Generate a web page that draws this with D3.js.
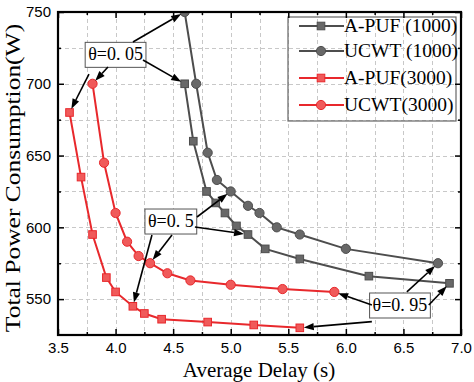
<!DOCTYPE html>
<html><head><meta charset="utf-8">
<script src="https://cdn.jsdelivr.net/npm/d3@7"></script>
<style>body{margin:0;background:#fff}svg{display:block}</style>
</head><body><svg id="c" width="474" height="382"></svg>
<script>
// ---- data ----
const seriesNames = ["A-PUF (1000)", "UCWT (1000)", "A-PUF(3000)", "UCWT(3000)"];
const apuf1000X = [4.6, 4.675, 4.79, 4.87, 4.95, 5.05, 5.15, 5.3, 5.6, 6.2, 6.9];
const apuf1000Y = [700, 660, 625, 617, 610, 601, 595, 585, 578, 566, 561];
const ucwt1000X = [4.6, 4.7, 4.8, 4.88, 5.0, 5.15, 5.25, 5.4, 5.6, 6.0, 6.8];
const ucwt1000Y = [750, 700, 652, 633, 625, 615, 610, 600, 595, 585, 575];
const apuf3000X = [3.6, 3.7, 3.8, 3.92, 4.0, 4.15, 4.25, 4.4, 4.8, 5.2, 5.6];
const apuf3000Y = [680, 635, 595, 565, 555, 545, 540, 536, 534, 532, 530];
const ucwt3000X = [3.8, 3.9, 4.0, 4.1, 4.2, 4.3, 4.45, 4.65, 5.0, 5.45, 5.9];
const ucwt3000Y = [700, 645, 610, 590, 580, 575, 568, 563, 560, 557, 555];
const xTicks = [3.5, 4.0, 4.5, 5.0, 5.5, 6.0, 6.5, 7.0];
const yTicks = [550, 600, 650, 700, 750];
const annotations = [
  {label: "θ=0. 05", cx: 4.0, cy: 720.5,
   arrows: [[3.769, 706.8, 3.6, 680], [3.934, 711.7, 3.8, 700], [4.151, 729.1, 4.6, 750], [4.238, 716.6, 4.6, 700]]},
  {label: "θ=0. 5", cx: 4.48, cy: 604.4,
   arrows: [[4.316, 594.7, 4.15, 545], [4.49, 594.7, 4.3, 575], [4.707, 607.2, 5.0, 625], [4.689, 600.2, 5.15, 595]]},
  {label: "θ=0. 95", cx: 6.47, cy: 545.9,
   arrows: [[6.226, 545.9, 5.9, 555], [6.226, 534.3, 5.6, 530], [6.53, 555, 6.8, 575], [6.72, 545.9, 6.9, 561]]}
];

// ---- layout ----
const L = 58, R = 461, T = 12, B = 335;
const x = d3.scaleLinear().domain([3.5, 7.0]).range([L, R]);
const y = d3.scaleLinear().domain([525, 750]).range([B, T]);
const svg = d3.select("#c");
const GRAY = "#4d4d4d", GRAYM = "#686868", RED = "#e8282c", REDM = "#f05a5a";

const series = [
  {name: seriesNames[0], xs: apuf1000X, ys: apuf1000Y, color: GRAY, mfill: GRAYM, shape: "sq"},
  {name: seriesNames[1], xs: ucwt1000X, ys: ucwt1000Y, color: GRAY, mfill: GRAYM, shape: "ci"},
  {name: seriesNames[2], xs: apuf3000X, ys: apuf3000Y, color: RED, mfill: REDM, shape: "sq"},
  {name: seriesNames[3], xs: ucwt3000X, ys: ucwt3000Y, color: RED, mfill: REDM, shape: "ci"}
];

svg.append("defs").append("clipPath").attr("id", "clip")
  .append("rect").attr("x", L).attr("y", T).attr("width", R - L).attr("height", B - T);

// grid
const gx = d3.range(3.75, 7.0, 0.25), gy = d3.range(550, 750, 25);
const grid = svg.append("g").attr("stroke", "#c8c8c8").attr("stroke-width", 1).attr("stroke-dasharray", "4,3");
grid.selectAll("line.v").data(gx).join("line").attr("class", "v")
  .attr("x1", d => Math.round(x(d)) + 0.5).attr("x2", d => Math.round(x(d)) + 0.5).attr("y1", T).attr("y2", B);
grid.selectAll("line.h").data(gy).join("line").attr("class", "h")
  .attr("y1", d => Math.round(y(d)) + 0.5).attr("y2", d => Math.round(y(d)) + 0.5).attr("x1", L).attr("x2", R);

// legend box (transparent)
svg.append("rect").attr("x", 288).attr("y", 17).attr("width", 168).attr("height", 104)
  .attr("fill", "none").attr("stroke", "#666").attr("stroke-width", 1.2);

// series
const plot = svg.append("g").attr("clip-path", "url(#clip)");
function marker(g, s, px, py) {
  if (s.shape === "sq") {
    g.append("rect").attr("x", px - 3.8).attr("y", py - 3.8).attr("width", 7.6).attr("height", 7.6)
      .attr("fill", s.mfill).attr("stroke", s.color).attr("stroke-width", 1);
  } else {
    g.append("circle").attr("cx", px).attr("cy", py).attr("r", 4.6)
      .attr("fill", s.mfill).attr("stroke", s.color).attr("stroke-width", 1);
  }
}
series.forEach(s => {
  const pts = s.xs.map((v, i) => [v, s.ys[i]]);
  plot.append("path").attr("d", d3.line().x(d => x(d[0])).y(d => y(d[1]))(pts))
    .attr("fill", "none").attr("stroke", s.color).attr("stroke-width", 2);
  pts.forEach(p => marker(plot, s, x(p[0]), y(p[1])));
});

// axes (inward ticks, all four sides)
const ax = svg.append("g");
function axisSide(gen, tr, cls) { ax.append("g").attr("class", cls || "").attr("transform", tr).call(gen); }
const minorX = d3.range(3.75, 7.0, 0.5), minorY = d3.range(575, 750, 50);
axisSide(d3.axisBottom(x).tickValues(xTicks).tickSizeInner(-6).tickSizeOuter(0).tickFormat(d3.format(".1f")), `translate(0,${B})`, "xb");
axisSide(d3.axisBottom(x).tickValues(minorX).tickSizeInner(-3).tickSizeOuter(0).tickFormat(""), `translate(0,${B})`);
axisSide(d3.axisTop(x).tickValues(xTicks).tickSizeInner(-6).tickSizeOuter(0).tickFormat(""), `translate(0,${T})`);
axisSide(d3.axisTop(x).tickValues(minorX).tickSizeInner(-3).tickSizeOuter(0).tickFormat(""), `translate(0,${T})`);
axisSide(d3.axisLeft(y).tickValues(yTicks).tickSizeInner(-6).tickSizeOuter(0).tickFormat(d3.format("d")), `translate(${L},0)`, "yl");
axisSide(d3.axisLeft(y).tickValues(minorY).tickSizeInner(-3).tickSizeOuter(0).tickFormat(""), `translate(${L},0)`);
axisSide(d3.axisRight(y).tickValues(yTicks).tickSizeInner(-6).tickSizeOuter(0).tickFormat(""), `translate(${R},0)`);
axisSide(d3.axisRight(y).tickValues(minorY).tickSizeInner(-3).tickSizeOuter(0).tickFormat(""), `translate(${R},0)`);
ax.selectAll(".domain").remove();
ax.selectAll(".tick line").attr("stroke", "#000").attr("stroke-width", 1.5);
ax.selectAll(".tick text").attr("font-family", "'Liberation Sans', Arial, sans-serif").attr("font-size", 15).attr("fill", "#000");
ax.select(".xb").selectAll(".tick text").attr("dy", "0").attr("y", 18);
ax.select(".yl").selectAll(".tick text").attr("x", -7);
svg.append("rect").attr("x", L).attr("y", T).attr("width", R - L).attr("height", B - T)
  .attr("fill", "none").attr("stroke", "#000").attr("stroke-width", 2.2);

// axis titles
svg.append("text").attr("x", 259).attr("y", 377).attr("text-anchor", "middle")
  .attr("font-family", "'Liberation Serif', 'Times New Roman', serif").attr("font-size", 21)
  .text("Average Delay (s)");
svg.append("text").attr("transform", "translate(20,178) scale(0.85,1) rotate(-90)").attr("text-anchor", "middle")
  .attr("font-family", "'Liberation Serif', 'Times New Roman', serif").attr("font-size", 25.5)
  .text("Total Power Consumption(W)");

// legend
const legRows = [26, 51, 78, 105];
series.forEach((s, i) => {
  const g = svg.append("g");
  g.append("line").attr("x1", 299).attr("x2", 344).attr("y1", legRows[i]).attr("y2", legRows[i])
    .attr("stroke", s.color).attr("stroke-width", 2);
  marker(g, s, 321, legRows[i]);
  g.append("text").attr("x", 344).attr("y", legRows[i] + 6)
    .attr("font-family", "'Liberation Serif', 'Times New Roman', serif").attr("font-size", 19.5)
    .text(s.name);
});

// annotations
const ann = svg.append("g");
function arrow(x1, y1, x2, y2) {
  const dx = x2 - x1, dy = y2 - y1, len = Math.hypot(dx, dy), ux = dx / len, uy = dy / len;
  const ex = x2 - ux * 4, ey = y2 - uy * 4; // stop short of the marker
  const hl = 10, hw = 3.6;
  const bx = ex - ux * hl, by = ey - uy * hl;
  ann.append("line").attr("x1", x1).attr("y1", y1).attr("x2", bx).attr("y2", by)
    .attr("stroke", "#000").attr("stroke-width", 1.6);
  ann.append("path").attr("d", `M${ex},${ey}L${bx - uy * hw},${by + ux * hw}L${bx + uy * hw},${by - ux * hw}Z`).attr("fill", "#000");
}
annotations.forEach(a => {
  const t = ann.append("text").attr("x", x(a.cx)).attr("y", y(a.cy) + 6).attr("text-anchor", "middle")
    .attr("font-family", "'Liberation Serif', 'Times New Roman', serif").attr("font-size", 18).text(a.label);
  const bb = t.node().getBBox();
  ann.insert("rect", "text").attr("x", bb.x - 3).attr("y", y(a.cy) - 12).attr("width", bb.width + 6).attr("height", 25)
    .attr("fill", "#fff").attr("stroke", "#555").attr("stroke-width", 1);
  a.arrows.forEach(r => arrow(x(r[0]), y(r[1]), x(r[2]), y(r[3])));
});
</script></body></html>
